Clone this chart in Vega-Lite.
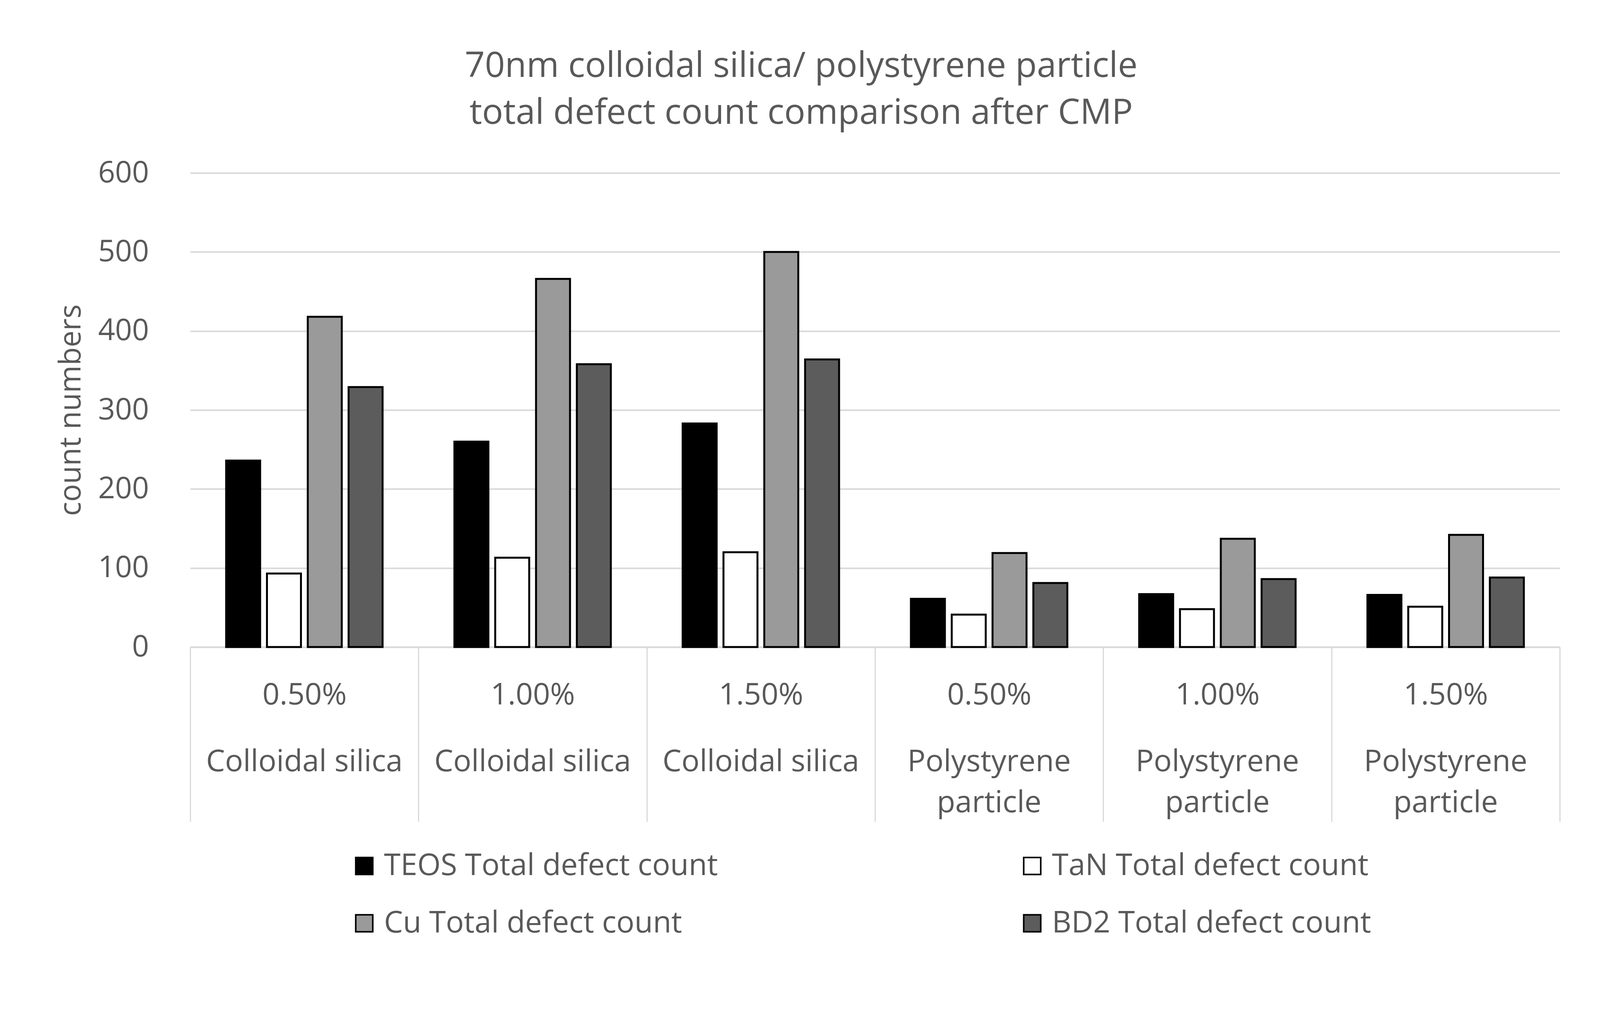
{
  "$schema": "https://vega.github.io/schema/vega-lite/v6.json",
  "width": 3506,
  "height": 1214,
  "autosize": {"type": "none"},
  "padding": {"left": 487, "top": 443, "right": 103, "bottom": 847},
  "background": "white",
  "config": {"view": {"stroke": null}, "font": "Open Sans"},
  "title": {
    "text": ["70nm colloidal silica/ polystyrene particle", "total defect count comparison after CMP"],
    "fontSize": 90,
    "font": "Open Sans",
    "fontWeight": "normal",
    "color": "#595959",
    "lineHeight": 120,
    "anchor": "middle",
    "frame": "group",
    "dx": -189,
    "offset": 69
  },
  "data": {
    "values": [
      {"category": "0.50% Colloidal silica", "series": "TEOS Total defect count", "value": 236},
      {"category": "0.50% Colloidal silica", "series": "TaN Total defect count", "value": 93},
      {"category": "0.50% Colloidal silica", "series": "Cu Total defect count", "value": 418},
      {"category": "0.50% Colloidal silica", "series": "BD2 Total defect count", "value": 329},
      {"category": "1.00% Colloidal silica", "series": "TEOS Total defect count", "value": 260},
      {"category": "1.00% Colloidal silica", "series": "TaN Total defect count", "value": 113},
      {"category": "1.00% Colloidal silica", "series": "Cu Total defect count", "value": 466},
      {"category": "1.00% Colloidal silica", "series": "BD2 Total defect count", "value": 358},
      {"category": "1.50% Colloidal silica", "series": "TEOS Total defect count", "value": 283},
      {"category": "1.50% Colloidal silica", "series": "TaN Total defect count", "value": 120},
      {"category": "1.50% Colloidal silica", "series": "Cu Total defect count", "value": 500},
      {"category": "1.50% Colloidal silica", "series": "BD2 Total defect count", "value": 364},
      {"category": "0.50% Polystyrene particle", "series": "TEOS Total defect count", "value": 61},
      {"category": "0.50% Polystyrene particle", "series": "TaN Total defect count", "value": 41},
      {"category": "0.50% Polystyrene particle", "series": "Cu Total defect count", "value": 119},
      {"category": "0.50% Polystyrene particle", "series": "BD2 Total defect count", "value": 81},
      {"category": "1.00% Polystyrene particle", "series": "TEOS Total defect count", "value": 67},
      {"category": "1.00% Polystyrene particle", "series": "TaN Total defect count", "value": 48},
      {"category": "1.00% Polystyrene particle", "series": "Cu Total defect count", "value": 137},
      {"category": "1.00% Polystyrene particle", "series": "BD2 Total defect count", "value": 86},
      {"category": "1.50% Polystyrene particle", "series": "TEOS Total defect count", "value": 66},
      {"category": "1.50% Polystyrene particle", "series": "TaN Total defect count", "value": 51},
      {"category": "1.50% Polystyrene particle", "series": "Cu Total defect count", "value": 142},
      {"category": "1.50% Polystyrene particle", "series": "BD2 Total defect count", "value": 88}
    ]
  },
  "layer": [
    {
      "mark": {"type": "bar", "stroke": "black", "strokeWidth": 5},
      "encoding": {
        "x": {
          "field": "category",
          "type": "nominal",
          "sort": ["0.50% Colloidal silica", "1.00% Colloidal silica", "1.50% Colloidal silica", "0.50% Polystyrene particle", "1.00% Polystyrene particle", "1.50% Polystyrene particle"],
          "scale": {"paddingInner": 0, "paddingOuter": 0},
          "axis": {
            "orient": "bottom",
            "title": null,
            "labelExpr": "slice(datum.label,0,5)",
            "labelFontSize": 77,
            "labelFont": "Open Sans",
            "labelColor": "#595959",
            "labelAngle": 0,
            "labelAlign": "center",
            "labelBaseline": "top",
            "labelPadding": -362,
            "labelLimit": 0,
            "labelOverlap": false,
            "labelBound": false,
            "ticks": true,
            "tickBand": "extent",
            "tickSize": 447,
            "tickColor": "#d9d9d9",
            "tickWidth": 3,
            "domainColor": "#d9d9d9",
            "domainWidth": 4,
            "grid": false
          }
        },
        "xOffset": {
          "field": "series",
          "type": "nominal",
          "sort": ["TEOS Total defect count", "TaN Total defect count", "Cu Total defect count", "BD2 Total defect count"],
          "scale": {"paddingInner": 0.167, "paddingOuter": 0.88}
        },
        "y": {
          "field": "value",
          "type": "quantitative",
          "scale": {"domain": [0, 600], "nice": false},
          "axis": {
            "title": "count numbers",
            "titleFontSize": 76,
            "titleFont": "Open Sans",
            "titleColor": "#595959",
            "titleFontWeight": "normal",
            "titlePadding": 66,
            "labelFontSize": 76,
            "labelFont": "Open Sans",
            "labelColor": "#595959",
            "labelPadding": 106,
            "ticks": false,
            "domain": false,
            "grid": true,
            "gridColor": "#d9d9d9",
            "gridWidth": 4,
            "values": [0, 100, 200, 300, 400, 500, 600]
          }
        },
        "fill": {
          "field": "series",
          "type": "nominal",
          "scale": {
            "domain": ["TEOS Total defect count", "TaN Total defect count", "Cu Total defect count", "BD2 Total defect count"],
            "range": ["#000000", "#ffffff", "#9a9a9a", "#5c5c5c"]
          },
          "legend": {
            "title": null,
            "orient": "none",
            "legendX": 407,
            "legendY": 1736,
            "direction": "horizontal",
            "columns": 2,
            "columnPadding": 766,
            "rowPadding": 69,
            "symbolType": "square",
            "symbolSize": 1900,
            "symbolStrokeColor": "black",
            "symbolStrokeWidth": 4,
            "labelFontSize": 77,
            "labelFont": "Open Sans",
            "labelColor": "#595959",
            "labelLimit": 0,
            "labelOffset": 12
          }
        }
      }
    },
    {
      "mark": {"type": "bar", "opacity": 0},
      "encoding": {
        "x": {
          "field": "category",
          "type": "nominal",
          "sort": ["0.50% Colloidal silica", "1.00% Colloidal silica", "1.50% Colloidal silica", "0.50% Polystyrene particle", "1.00% Polystyrene particle", "1.50% Polystyrene particle"],
          "axis": {
            "orient": "bottom",
            "title": null,
            "labelExpr": "indexof(datum.label,'Polystyrene')>=0 ? ['Polystyrene','particle'] : 'Colloidal silica'",
            "labelFontSize": 77,
            "labelFont": "Open Sans",
            "labelColor": "#595959",
            "labelAngle": 0,
            "labelAlign": "center",
            "labelBaseline": "top",
            "labelLineHeight": 105,
            "labelPadding": 256,
            "labelLimit": 0,
            "labelOverlap": false,
            "labelBound": false,
            "ticks": false,
            "domain": false,
            "grid": false
          }
        }
      }
    }
  ],
  "resolve": {"axis": {"x": "independent"}}
}
